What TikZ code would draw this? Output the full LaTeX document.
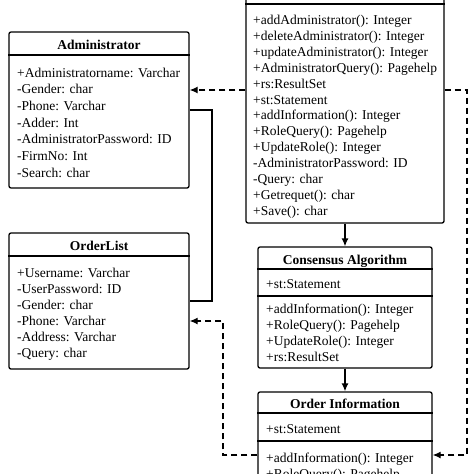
\documentclass[tikz,border=0pt]{standalone}
\usepackage{fontspec}
\setmainfont{Liberation Serif}
\usetikzlibrary{arrows.meta}
\begin{document}
\begin{tikzpicture}[x=1pt,y=-1pt,
  box/.style={draw, line width=1.3pt, rounded corners=2pt, inner sep=0pt},
  sepline/.style={line width=1.3pt},
  ttl/.style={font=\fontsize{13.5}{16}\selectfont\bfseries, anchor=base, inner sep=0pt},
  txt/.style={font=\fontsize{13.5}{16}\selectfont, anchor=base west, inner sep=0pt},
  dep/.style={line width=1.3pt, dash pattern=on 6pt off 4pt, -{Latex[length=8pt,width=7pt]}},
  flow/.style={line width=1.3pt, -{Latex[length=8pt,width=7pt]}},
  link/.style={line width=1.3pt}]
\useasboundingbox (0,0) rectangle (474,474);
\clip (0,0) rectangle (474,474);
\fill[white] (0,0) rectangle (474,474);

% boxes
\node[box, minimum width=198pt, minimum height=253pt] (top) at (345,96.5) {};
\node[box, minimum width=180pt, minimum height=156pt] (admin) at (99,110) {};
\node[box, minimum width=180pt, minimum height=136pt] (order) at (99,301) {};
\node[box, minimum width=174pt, minimum height=121pt] (cons) at (345,307.5) {};
\node[box, minimum width=174pt, minimum height=148pt] (info) at (345,466) {};

% separators
\draw[sepline] (top.west |- 0,4) -- (top.east |- 0,4);
\draw[sepline] (admin.west |- 0,55) -- (admin.east |- 0,55);
\draw[sepline] (order.west |- 0,256) -- (order.east |- 0,256);
\draw[sepline] (cons.west |- 0,269) -- (cons.east |- 0,269);
\draw[sepline] (cons.west |- 0,296) -- (cons.east |- 0,296);
\draw[sepline] (info.west |- 0,413) -- (info.east |- 0,413);
\draw[sepline] (info.west |- 0,441) -- (info.east |- 0,441);

% titles
\node[ttl] (admint) at (99,49) {Administrator};
\node[ttl] (ordert) at (99,250.5) {OrderList};
\node[ttl] (const) at (345,264) {Consensus Algorithm};
\node[ttl] (infot) at (345,408) {Order Information};

% texts
\foreach \t [count=\i] in {{+addAdministrator(): Integer},{+deleteAdministrator(): Integer},{+updateAdministrator(): Integer},{+AdministratorQuery(): Pagehelp},{+rs:ResultSet},{+st:Statement},{+addInformation(): Integer},{+RoleQuery(): Pagehelp},{+UpdateRole(): Integer},{-AdministratorPassword: ID},{-Query: char},{+Getrequet(): char},{+Save(): char}}
  \node[txt] (topl\i) at (253,{24.5+(\i-1)*15.9}) {\t};

\foreach \t [count=\i] in {{+Administratorname: Varchar},{-Gender: char},{-Phone: Varchar},{-Adder: Int},{-AdministratorPassword: ID},{-FirmNo: Int},{-Search: char}}
  \node[txt] (adml\i) at (17,{77.2+(\i-1)*16.67}) {\t};

\foreach \t [count=\i] in {{+Username: Varchar},{-UserPassword: ID},{-Gender: char},{-Phone: Varchar},{-Address: Varchar},{-Query: char}}
  \node[txt] (ordl\i) at (17,{277.8+(\i-1)*16}) {\t};

\node[txt] (consa) at (266,288) {+st:Statement};
\foreach \t [count=\i] in {{+addInformation(): Integer},{+RoleQuery(): Pagehelp},{+UpdateRole(): Integer},{+rs:ResultSet}}
  \node[txt] (consl\i) at (266,{313.8+(\i-1)*15.8}) {\t};

\node[txt] (infoa) at (266,433.2) {+st:Statement};
\foreach \t [count=\i] in {{+addInformation(): Integer},{+RoleQuery(): Pagehelp}}
  \node[txt] (infol\i) at (266,{462.2+(\i-1)*15.8}) {\t};

% connector waypoints
\coordinate (j1) at (212,110);
\coordinate (j2) at (212,301);
\coordinate (r1) at (467,90);
\coordinate (r2) at (467,455);
\coordinate (l1) at (223,455);
\coordinate (l2) at (223,321);

% connectors
\draw[dep] (top.west |- 0,90) -- (admin.east |- 0,90);
\draw[link] (admin.east |- j1) -- (j1) -- (j2) -- (order.east |- j2);
\draw[flow] (top.south) -- (cons.north);
\draw[flow] (cons.south) -- (info.north);
\draw[dep] (top.east |- r1) -- (r1) -- (r2) -- (info.east |- r2);
\draw[dep] (info.west |- l1) -- (l1) -- (l2) -- (order.east |- l2);
\end{tikzpicture}
\end{document}
